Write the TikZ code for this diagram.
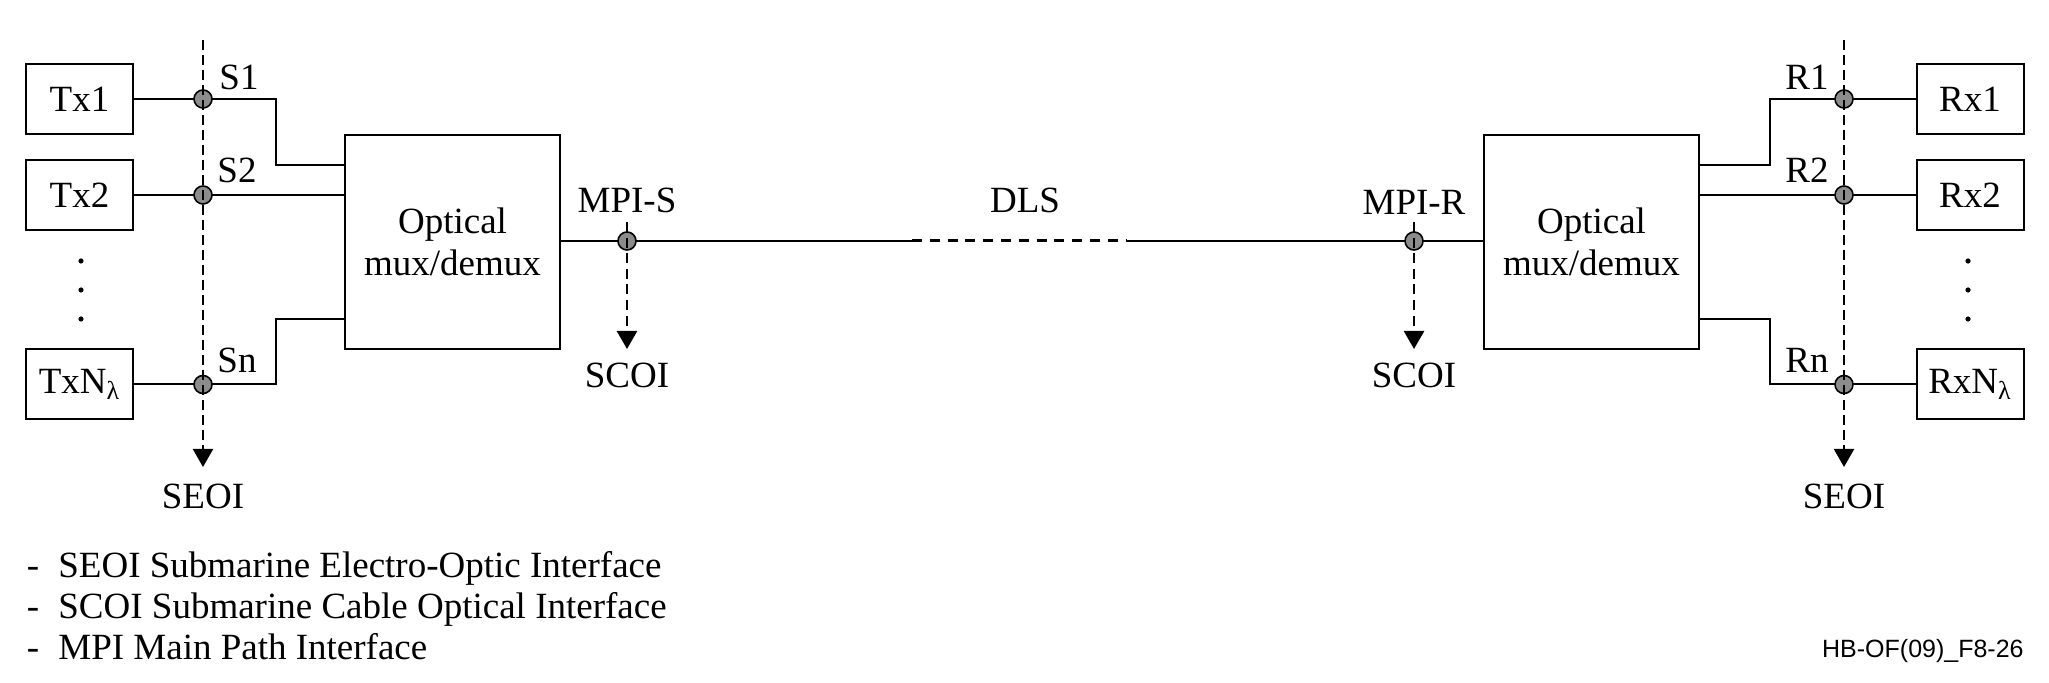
\documentclass[tikz,border=0pt]{standalone}
\usepackage{fontspec}
\setmainfont{Liberation Serif}
\newfontfamily\hbfont{Liberation Sans}
\usetikzlibrary{arrows.meta}
\begin{document}
\begin{tikzpicture}[x=0.5pt,y=-0.5pt,
  txt/.style={font=\fontsize{18.5}{21}\selectfont, inner sep=0pt},
  unitbox/.style={draw, line width=1pt, minimum width=53.5pt, minimum height=35pt, inner sep=0pt, font=\fontsize{18.5}{21}\selectfont},
  muxbox/.style={draw, line width=1pt, minimum width=107.5pt, minimum height=107pt, inner sep=0pt, align=center, font=\fontsize{18.5}{21}\selectfont},
  conn/.style={line width=1pt},
  tap/.style={circle, draw, line width=0.8pt, fill=black!45, minimum size=9pt, inner sep=0pt},
  ifline/.style={line width=1pt, dash pattern=on 5pt off 2.5pt, -{Triangle[length=9pt,width=10pt]}},
  mpiline/.style={line width=1.3pt, dash pattern=on 5pt off 2.8pt, -{Triangle[length=9pt,width=10pt]}},
  dlsline/.style={line width=1.5pt, dash pattern=on 5pt off 3.9pt}
]
\useasboundingbox (0,0) rectangle (2049,683);

% boxes
\node[unitbox] (tx1) at (79.5,99) {Tx1};
\node[unitbox] (tx2) at (79.5,195) {Tx2};
\node[unitbox] (txn) at (79.5,384.5) {TxN\textsubscript{λ}};
\node[unitbox] (rx1) at (1970,99) {Rx1};
\node[unitbox] (rx2) at (1970,195) {Rx2};
\node[unitbox] (rxn) at (1970,384.5) {RxN\textsubscript{λ}};
\node[muxbox] (lmux) at (452.5,242) {Optical\\mux/demux};
\node[muxbox] (rmux) at (1591.5,242) {Optical\\mux/demux};

% tap points and bends
\coordinate (p1) at (203,99);
\coordinate (p2) at (203,195);
\coordinate (p3) at (203,384.5);
\coordinate (q1) at (1844,99);
\coordinate (q2) at (1844,195);
\coordinate (q3) at (1844,384.5);
\coordinate (k1) at (276,165);
\coordinate (k3) at (276,319);
\coordinate (k4) at (1770,165);
\coordinate (k6) at (1770,319);
\coordinate (m1) at (627,241);
\coordinate (m2) at (1414,241);
\coordinate (dl1) at (912,241);
\coordinate (dl2) at (1126,241);
\coordinate (seoiLtop) at (203,40);
\coordinate (seoiLend) at (203,467);
\coordinate (seoiRtop) at (1844,40);
\coordinate (seoiRend) at (1844,467);
\coordinate (mpiStop) at (627,222);
\coordinate (mpiSend) at (627,349);
\coordinate (mpiRtop) at (1414,222);
\coordinate (mpiRend) at (1414,349);

% connectors
\draw[conn] (tx1.east) -- (p1) -| (k1) -- (k1 -| lmux.west);
\draw[conn] (tx2.east) -- (p2) -- (p2 -| lmux.west);
\draw[conn] (txn.east) -- (p3) -| (k3) -- (k3 -| lmux.west);
\draw[conn] (rmux.east |- k4) -- (k4) |- (q1) -- (rx1.west);
\draw[conn] (rmux.east |- q2) -- (q2) -- (rx2.west);
\draw[conn] (rmux.east |- k6) -- (k6) |- (q3) -- (rxn.west);
\draw[conn] (lmux.east |- m1) -- (m1) -- (dl1);
\draw[dlsline] (dl1) -- (dl2);
\draw[conn] (dl2) -- (m2) -- (rmux.west |- m2);

% tap dots
\foreach \c in {p1,p2,p3,q1,q2,q3,m1,m2}
  \node[tap] (dot-\c) at (\c) {};

% interface lines
\draw[ifline] (seoiLtop) -- (seoiLend);
\draw[ifline] (seoiRtop) -- (seoiRend);
\draw[mpiline] (mpiStop) -- (mpiSend);
\draw[mpiline] (mpiRtop) -- (mpiRend);

% ellipsis dots
\foreach \yy in {261,290,319} {
  \fill (81,\yy) circle (1.3pt);
  \fill (1968,\yy) circle (1.3pt);
}

% labels
\node[txt] (ls1) at (239,77) {S1};
\node[txt] (ls2) at (237,170) {S2};
\node[txt] (lsn) at (237,360) {Sn};
\node[txt] (lr1) at (1807,77) {R1};
\node[txt] (lr2) at (1807,170) {R2};
\node[txt] (lrn) at (1807,360) {Rn};
\node[txt] (lseoiL) at (203,496) {SEOI};
\node[txt] (lseoiR) at (1844,496) {SEOI};
\node[txt] (lscoiS) at (627,375) {SCOI};
\node[txt] (lscoiR) at (1414,375) {SCOI};
\node[txt] (lmpis) at (627,200) {MPI-S};
\node[txt] (lmpir) at (1414,202) {MPI-R};
\node[txt] (ldls) at (1025,200) {DLS};

% legend
\node[txt, anchor=base] (d1) at (33,577) {-};
\node[txt, anchor=base west] (g1) at (58,577) {SEOI Submarine Electro-Optic Interface};
\node[txt, anchor=base] (d2) at (33,618) {-};
\node[txt, anchor=base west] (g2) at (58,618) {SCOI Submarine Cable Optical Interface};
\node[txt, anchor=base] (d3) at (33,659) {-};
\node[txt, anchor=base west] (g3) at (58,659) {MPI Main Path Interface};

\node[font=\hbfont\fontsize{12.5}{14}\selectfont, inner sep=0pt, anchor=base east] (ref) at (2024,657) {HB-OF(09)\_F8-26};
\end{tikzpicture}
\end{document}
